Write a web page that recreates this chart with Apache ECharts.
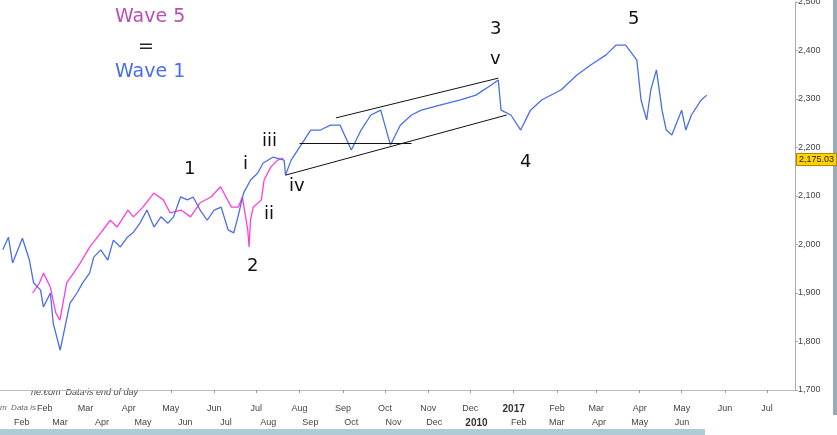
<!DOCTYPE html>
<html><head><meta charset="utf-8">
<script src="https://cdn.jsdelivr.net/npm/echarts@6/dist/echarts.min.js"></script>
<style>html,body{margin:0;padding:0;background:#fff}#c{width:837px;height:435px}</style>
</head><body><div id="c"></div>
<script>
var blueDates=['2016-01-02','2016-01-06','2016-01-09','2016-01-16','2016-01-21','2016-01-24','2016-01-29','2016-01-31','2016-02-05','2016-02-07','2016-02-12','2016-02-16','2016-02-19','2016-02-24','2016-02-28','2016-03-04','2016-03-07','2016-03-12','2016-03-17','2016-03-21','2016-03-26','2016-03-31','2016-04-04','2016-04-09','2016-04-14','2016-04-19','2016-04-24','2016-04-29','2016-05-03','2016-05-08','2016-05-13','2016-05-17','2016-05-22','2016-05-27','2016-06-01','2016-06-06','2016-06-11','2016-06-15','2016-06-18','2016-06-22','2016-06-27','2016-07-02','2016-07-06','2016-07-13','2016-07-21','2016-07-22','2016-07-26','2016-08-02','2016-08-09','2016-08-16','2016-08-23','2016-08-30','2016-09-07','2016-09-14','2016-09-21','2016-09-28','2016-10-05','2016-10-12','2016-10-20','2016-10-27','2016-11-10','2016-11-24','2016-12-05','2016-12-16','2016-12-21','2016-12-23','2016-12-30','2017-01-06','2017-01-13','2017-01-21','2017-02-04','2017-02-15','2017-02-25','2017-03-08','2017-03-15','2017-03-22','2017-03-30','2017-04-02','2017-04-06','2017-04-09','2017-04-13','2017-04-17','2017-04-20','2017-04-24','2017-05-01','2017-05-04','2017-05-08','2017-05-15','2017-05-19'];
var blueValues=[1989,2015,1962,2013,1968,1921,1906,1871,1900,1838,1782,1838,1879,1900,1921,1941,1974,1989,1968,2009,1995,2015,2024,2044,2071,2036,2057,2044,2057,2098,2092,2098,2071,2050,2071,2077,2030,2024,2057,2106,2133,2147,2168,2180,2174,2143,2174,2205,2236,2236,2246,2246,2195,2236,2267,2277,2205,2246,2267,2277,2288,2298,2308,2329,2339,2277,2267,2236,2277,2298,2319,2349,2370,2391,2411,2411,2380,2298,2257,2319,2360,2277,2236,2226,2277,2236,2267,2298,2308];
var pinkDates=['2009-02-09','2009-02-14','2009-02-17','2009-02-22','2009-02-26','2009-03-01','2009-03-06','2009-03-11','2009-03-16','2009-03-23','2009-03-31','2009-04-07','2009-04-12','2009-04-20','2009-04-24','2009-05-01','2009-05-09','2009-05-16','2009-05-21','2009-05-29','2009-06-05','2009-06-12','2009-06-20','2009-06-27','2009-07-05','2009-07-10','2009-07-13','2009-07-17','2009-07-18','2009-07-19','2009-07-21','2009-07-27','2009-07-29','2009-08-03','2009-08-08','2009-08-12'];
var pinkValues=[1900,1921,1941,1912,1859,1844,1921,1941,1962,1995,2024,2050,2036,2071,2057,2077,2106,2092,2065,2071,2057,2086,2098,2119,2077,2077,2098,2030,1995,2050,2077,2092,2133,2160,2174,2178];
var yTicks=[1700,1800,1900,2000,2100,2200,2300,2400,2500];
var lastPrice=2175.03;
var months=['Jan','Feb','Mar','Apr','May','Jun','Jul','Aug','Sep','Oct','Nov','Dec'];

function days(a,b){var r=[];var d=new Date(a+'T00:00:00Z'),e=new Date(b+'T00:00:00Z');while(d<=e){r.push(d.toISOString().slice(0,10));d=new Date(d.getTime()+86400000);}return r;}
var blueCats=days('2015-12-31','2017-07-21');
var pinkCats=days('2009-01-16','2010-08-23');
function lbl(v){var m=+v.slice(5,7);return m===1?'{y|'+v.slice(0,4)+'}':months[m-1];}
function iv(i,v){return v.slice(8)==='01' && v!=='2016-01-01';}
function iv2(i,v){return v.slice(8)==='01' && v<'2010-07-01';}
function pairs(d,v){return d.map(function(x,i){return [x,v[i]];});}
var lab={fontFamily:'Liberation Sans',fontSize:9,color:'#444',formatter:lbl,rich:{y:{fontWeight:'bold',fontSize:10,color:'#333'}}};
var chart=echarts.init(document.getElementById('c'));
var tx=function(t,x,y,s,c){return {type:'text',left:x,top:y,style:{text:t,fontSize:s||18,fontFamily:'DejaVu Sans',fill:c||'#111'}};};
chart.setOption({
animation:false,
grid:{left:0,right:42,top:2,height:388,containLabel:false,outerBoundsMode:'none'},
xAxis:[
 {type:'category',data:blueCats,boundaryGap:false,axisLine:{lineStyle:{color:'#bbb'}},axisTick:{interval:iv,length:3,lineStyle:{color:'#999'}},axisLabel:Object.assign({margin:14,interval:iv},lab),splitLine:{show:false}},
 {type:'category',data:pinkCats,boundaryGap:false,position:'bottom',offset:14,axisLine:{show:false},axisTick:{show:false},axisLabel:Object.assign({margin:14,interval:iv2},lab)}
],
yAxis:{type:'value',position:'right',min:1700,max:2500,interval:100,axisLine:{show:true,lineStyle:{color:'#aab'}},axisTick:{show:true,length:3,inside:false},splitLine:{show:false},
 axisLabel:{fontFamily:'Liberation Sans',fontSize:9,color:'#444',margin:3,formatter:function(v){return v.toLocaleString('en-US');}}},
series:[
 {type:'line',xAxisIndex:1,data:pairs(pinkDates,pinkValues),showSymbol:false,lineStyle:{color:'#ff3fdc',width:1.3},z:2,
  markLine:{silent:true,symbol:'none',lineStyle:{color:'rgba(0,0,0,0)',width:0},data:[{yAxis:lastPrice,label:{show:true,position:'end',formatter:'2,175.03',backgroundColor:'#ffd200',borderColor:'#b08a00',borderWidth:1,padding:[1,2],fontSize:9,fontFamily:'Liberation Sans',color:'#222',distance:2}}]}},
 {type:'line',xAxisIndex:0,data:pairs(blueDates,blueValues),showSymbol:false,lineStyle:{color:'#4a6ee8',width:1.3},z:3,
  markLine:{silent:true,symbol:'none',label:{show:false},lineStyle:{color:'#111',width:1,type:'solid'},data:[
   [{coord:['2016-07-22',2143]},{coord:['2016-12-27',2267]}],
   [{coord:['2016-08-27',2261]},{coord:['2016-12-21',2343]}],
   [{coord:['2016-08-01',2209]},{coord:['2016-10-20',2209]}]]}}
],
graphic:[
 tx('Wave 5',115,8,19,'#b84fb4'),tx('=',138,38,19,'#222'),tx('Wave 1',115,63,19,'#4a6ee8'),
 tx('1',184,160),tx('i',243,155),tx('iii',262,132),tx('ii',264,205),tx('2',247,257),tx('iv',289,177),
 tx('3',490,20),tx('v',490,50),tx('4',520,153),tx('5',628,10),
 {type:'text',left:31,top:388,style:{text:'ne.com  Data is end of day',fontSize:9,fontStyle:'italic',fontFamily:'Liberation Sans',fill:'#444'}},
 {type:'text',left:0,top:404,style:{text:'m  Data is',fontSize:8,fontStyle:'italic',fontFamily:'Liberation Sans',fill:'#666'}},
 {type:'rect',shape:{x:0,y:429,width:705,height:6},style:{fill:'#aecbd6'}},
 {type:'rect',shape:{x:833,y:0,width:4,height:415},style:{fill:'#9ab'}}
]
});
</script></body></html>
